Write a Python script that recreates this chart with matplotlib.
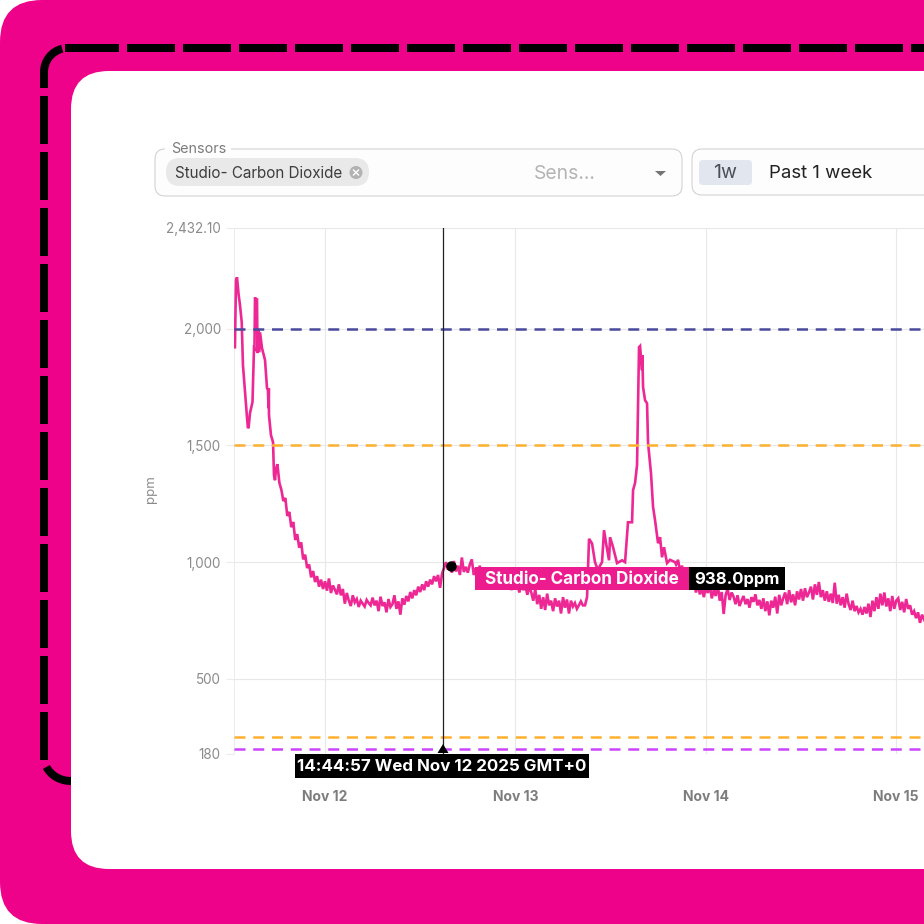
import matplotlib
matplotlib.use("Agg")
import matplotlib.pyplot as plt
import numpy as np
from matplotlib.patches import Arc, Circle, FancyBboxPatch, Polygon, Rectangle

plt.rcParams['font.family'] = ['Inter', 'DejaVu Sans']

# hours since Nov 12 00:00, steep start of the trace
start_hours = [-11.35, -11.22, -11.09, -10.9, -10.71, -10.5, -10.34, -10.08, -9.83, -9.71, -9.62,
               -9.45, -9.14, -8.95, -8.89, -8.82, -8.7, -8.57, -8.51, -8.38, -8.32, -8.19, -7.94,
               -7.56, -7.31, -7.19, -7.12, -7.08, -7.06, -6.81, -6.55, -6.43, -6.3, -6.18]
start_ppm = [1921, 2208, 2221, 2150, 2100, 2030, 1844, 1730, 1620, 1574, 1580,
             1640, 1686, 1917, 1915, 2135, 2120, 2123, 1896, 2000, 1900, 1985, 1917,
             1866, 1746, 1738, 1660, 1745, 1630, 1544, 1514, 1373, 1351, 1400]

# quarter hourly samples from hour -6
valley_ppm = [1420, 1340, 1310, 1262, 1275, 1198, 1215, 1150, 1172, 1095, 1120, 1062, 1085, 1012, 1032, 975,
              990, 935, 962, 915, 940, 895, 925, 885, 918, 878, 930, 868, 900, 882, 862, 905,
              858, 885, 822, 868, 835, 812, 858, 828, 842, 808, 835, 822, 810, 838, 825, 815,
              848, 815, 835, 790, 852, 812, 828, 785, 842, 808, 820, 858, 800, 832, 775, 845,
              818, 855, 832, 872, 845, 880, 858, 895, 872, 905, 880, 918, 895, 925, 905, 940,
              918, 945, 890, 950, 975, 1000, 968, 990, 955, 1005, 960, 985, 945, 1020, 958, 980,
              955, 990, 1012, 945, 975, 930, 985, 940, 968, 925, 960, 915, 952, 930, 945, 905,
              940, 895, 930, 885, 918, 940, 880, 925, 895, 905, 870, 915, 880, 900, 860, 895,
              870, 835, 885, 820, 860, 800, 850, 795, 865, 815, 835, 790, 845, 810, 835, 780,
              850, 805, 840, 780, 835, 810, 825, 800, 815, 832, 815]

# the afternoon peak on Nov 13
peak_hours = [32.77, 33.03, 33.28, 33.66, 34.03, 34.41, 34.66, 34.92, 35.17, 35.42, 35.8, 35.93, 36.3,
              36.81, 37.44, 37.82, 38.19, 38.7, 38.83, 39.08, 39.33, 39.58, 39.71, 39.96, 40.0, 40.09,
              40.34, 40.59, 40.72, 41.09, 41.35, 41.6, 41.98, 42.23, 42.48, 42.73, 43.11, 43.49, 44.12]
peak_ppm = [815, 850, 1100, 1080, 1000, 965, 985, 1000, 1137, 1082, 1008, 1107, 1065,
            996, 1008, 1000, 1171, 1171, 1309, 1339, 1416, 1921, 1926, 1823, 1887, 1750,
            1694, 1681, 1510, 1381, 1236, 1180, 1081, 1107, 1021, 1064, 996, 1010, 1000]

# quarter hourly samples from hour 44.25
tail_ppm = [990, 1010, 960, 985, 940, 965, 925, 950, 895, 930, 870, 905, 862, 890, 850, 895,
            868, 900, 845, 880, 855, 905, 835, 872, 778, 860, 885, 838, 870, 852, 820, 858,
            812, 835, 855, 820, 842, 805, 850, 830, 862, 815, 838, 800, 845, 790, 832, 772,
            835, 805, 852, 780, 860, 815, 845, 870, 820, 880, 828, 862, 815, 875, 840, 885,
            835, 888, 850, 870, 895, 840, 905, 860, 915, 850, 880, 835, 875, 830, 865, 825,
            912, 822, 860, 815, 850, 805, 865, 820, 795, 835, 790, 812, 785, 800, 775, 808,
            780, 822, 765, 835, 790, 850, 800, 865, 815, 870, 810, 845, 790, 855, 800, 835,
            845, 795, 830, 785, 842, 800, 815, 775, 790, 760, 785, 740, 775, 755, 770, 748]

y_ticks = [180, 500, 1000, 1500, 2000, 2432.1]
y_labels = ['180', '500', '1,000', '1,500', '2,000', '2,432.10']
x_ticks = [0, 24, 48, 72]
x_labels = ['Nov 12', 'Nov 13', 'Nov 14', 'Nov 15']
thresholds = [2000, 1500, 250, 200]
threshold_colors = ['#4a4a9c', '#ffb02e', '#ffb02e', '#cc44ff']

cursor_hour = 14.88
dot_hour = 15.9
dot_ppm = 983

PINK = '#ef028a'
LINE = '#ec1c8e'

hours = np.concatenate([start_hours, -6 + 0.25 * np.arange(len(valley_ppm)), peak_hours,
                        44.25 + 0.25 * np.arange(len(tail_ppm))])
ppm = np.concatenate([start_ppm, valley_ppm, peak_ppm, tail_ppm])

fig = plt.figure(figsize=(9.24, 9.24), dpi=100, facecolor='white')


def px_axes(zorder):
    a = fig.add_axes([0, 0, 1, 1], zorder=zorder)
    a.set_xlim(0, 924)
    a.set_ylim(924, 0)
    a.axis('off')
    a.patch.set_alpha(0)
    return a


def rounded(a, x, y, w, h, r, **kw):
    p = FancyBboxPatch((x + r, y + r), w - 2 * r, h - 2 * r, boxstyle='round,pad=%s,rounding_size=%s' % (r, r),
                       mutation_aspect=1, **kw)
    a.add_patch(p)
    return p


# frame behind the chart
bg = px_axes(0)
rounded(bg, 0, 0, 1100, 924, 42, fc=PINK, ec='none')

lw8 = 8 * 0.72
dash = dict(color='black', lw=lw8, solid_capstyle='butt', dash_capstyle='butt')
bg.plot([127, 924], [48, 48], linestyle=(0, (6, 1)), **dash)
bg.plot([65, 119], [48, 48], **dash)
bg.plot([44, 44], [96, 760], linestyle=(0, (6, 1)), **dash)
bg.plot([44, 44], [72, 88], **dash)
bg.add_patch(Arc((68, 72), 48, 48, theta1=180, theta2=256, color='black', lw=lw8, capstyle='butt'))
bg.add_patch(Arc((71, 757), 54, 48, theta1=90, theta2=158, color='black', lw=lw8, capstyle='butt'))
rounded(bg, 71, 71, 1100, 798, 38, fc='white', ec='none')

# controls above the chart
rounded(bg, 155, 149, 527, 47, 10, fc='#fdfdfd', ec='#cdcdcd', lw=0.7)
bg.plot([165, 231], [149, 149], color='white', lw=1.6, solid_capstyle='butt')
bg.text(171, 149, 'Sensors', fontsize=10.3, color='#7b7b7b', va='center', ha='left')
rounded(bg, 166, 158, 203, 28, 14, fc='#e9e9e9', ec='none')
bg.text(175, 173.5, 'Studio- Carbon Dioxide', fontsize=10.95, color='#3d3d3d', va='center', ha='left')
bg.add_patch(Circle((356, 172.5), 6.5, fc='#b2b2b2', ec='none'))
bg.plot([353.5, 358.5], [170, 175], color='white', lw=1)
bg.plot([353.5, 358.5], [175, 170], color='white', lw=1)
bg.text(534, 174, 'Sens...', fontsize=13.9, color='#b4b4b4', va='center', ha='left')
bg.add_patch(Polygon([[655, 171], [666, 171], [660.5, 176]], fc='#757575', ec='none'))
rounded(bg, 692, 149, 400, 46, 10, fc='#fdfdfd', ec='#cdcdcd', lw=0.7)
rounded(bg, 699, 160, 53, 25, 4, fc='#e2e6ef', ec='none')
bg.text(725.5, 173.5, '1w', fontsize=14, color='#4b4f58', va='center', ha='center')
bg.text(769, 173.5, 'Past 1 week', fontsize=13.4, color='#222222', va='center', ha='left')

# chart, placed by pixel so the scale matches
ax = fig.add_axes([234 / 924, (924 - 753.5) / 924, 690 / 924, 525.5 / 924], zorder=1)
ax.patch.set_alpha(0)
ax.set_xlim(-11.47, 75.5)
ax.set_ylim(180, 2432.1)
for s in ax.spines.values():
    s.set_visible(False)
ax.set_yticks(y_ticks, y_labels, fontsize=9.7, color='#8b8b8b')
ax.set_xticks(x_ticks, x_labels, fontsize=10, color='#7d7d7d', fontweight='bold')
ax.tick_params(axis='y', length=6, width=0.8, color='#ececec', pad=3.5)
ax.tick_params(axis='x', length=0, pad=26.5)
ax.grid(True, color='#e8e8e8', lw=0.8)
ax.set_axisbelow(True)
ax.axvline(-11.47, color='#e8e8e8', lw=1.2)
ax.set_ylabel('ppm', fontsize=9.6, color='#8b8b8b', labelpad=0)
ax.yaxis.set_label_coords((157 - 234) / 690, (753.5 - 489) / 525.5)

ax.plot(hours, ppm, color=LINE, lw=1.9, solid_joinstyle='miter', zorder=3, alpha=0.95)
for val, col in zip(thresholds, threshold_colors):
    ax.axhline(val, color=col, lw=1.8, linestyle=(0, (4.4, 3.1)), dash_capstyle='butt', zorder=4)
ax.axvline(cursor_hour, color='#222222', lw=0.9, zorder=5)
ax.plot([dot_hour], [dot_ppm], 'o', color='black', ms=6.5, zorder=6)

# hover labels on top
top = px_axes(2)
top.add_patch(Polygon([[437.5, 753], [448.5, 753], [443, 744]], fc='black', ec='none'))
top.add_patch(Rectangle((475, 567), 214, 23, fc=LINE, ec='none'))
top.add_patch(Rectangle((689, 567), 96, 23, fc='black', ec='none'))
top.text(485, 579.5, 'Studio- Carbon Dioxide', fontsize=12.3, color='white', fontweight='bold', va='center', ha='left')
top.text(694, 579.5, '938.0ppm', fontsize=12, color='white', fontweight='bold', va='center', ha='left')
top.add_patch(Rectangle((295, 754), 294, 24, fc='black', ec='none'))
top.text(297, 766.5, '14:44:57 Wed Nov 12 2025 GMT+0', fontsize=12.2, color='white', fontweight='bold', va='center', ha='left')

fig.savefig('out.png', dpi=100)
